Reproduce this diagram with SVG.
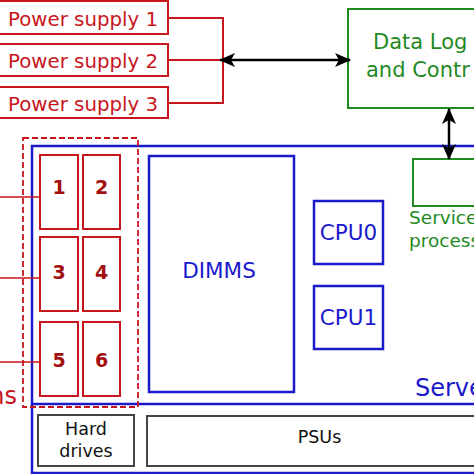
<svg xmlns="http://www.w3.org/2000/svg" width="474" height="474" viewBox="0 0 474 474">
<style>
text{font-family:"DejaVu Sans","Liberation Sans",sans-serif}
.red{fill:#fff;stroke:#c8161e;stroke-width:2}
.rt{fill:#c8161e;font-size:19.8px}
.blue{fill:#fff;stroke:#1a1acc;stroke-width:2.5}
.bt{fill:#1a1acc}
.green{fill:#fff;stroke:#1f8a1f;stroke-width:2}
.gt{fill:#1f8a1f}
.gray{fill:#fff;stroke:#444;stroke-width:2}
.num{fill:#a40f0f;font-size:19px;font-weight:bold;text-anchor:middle}
.fan{fill:#fff;stroke:#c8161e;stroke-width:2}
</style>
<defs>
<marker id="ah" viewBox="0 0 16 14" refX="15" refY="7" markerWidth="16" markerHeight="14" markerUnits="userSpaceOnUse" orient="auto-start-reverse">
<path d="M0,0 L16,7 L0,14 L4,7 Z" fill="#000"/>
</marker>
</defs>
<g id="server">
<rect class="blue" x="32" y="146" width="460" height="327"/>
<line x1="32" y1="404" x2="474" y2="404" stroke="#1a1acc" stroke-width="2.5"/>
<text class="bt" x="415" y="396" font-size="24">Serve</text>
</g>
<g id="fans-group">
<rect x="23" y="138" width="115" height="269" fill="none" stroke="#c8161e" stroke-width="1.8" stroke-dasharray="6,3"/>
<text x="17" y="404" fill="#c8161e" font-size="24" text-anchor="end">ns</text>
</g>
<g id="fan1"><rect class="fan" x="40" y="155" width="38" height="74"/><text class="num" x="59" y="194">1</text></g>
<g id="fan2"><rect class="fan" x="83" y="155" width="37" height="74"/><text class="num" x="101.5" y="194">2</text></g>
<g id="fan3"><rect class="fan" x="40" y="237" width="38" height="74"/><text class="num" x="59" y="279">3</text></g>
<g id="fan4"><rect class="fan" x="83" y="237" width="37" height="74"/><text class="num" x="101.5" y="279">4</text></g>
<g id="fan5"><rect class="fan" x="40" y="322" width="38" height="74"/><text class="num" x="59" y="367">5</text></g>
<g id="fan6"><rect class="fan" x="83" y="322" width="37" height="74"/><text class="num" x="101.5" y="367">6</text></g>
<g id="dimms"><rect class="blue" x="149" y="156" width="145" height="236"/><text class="bt" x="219" y="278" font-size="21.5" text-anchor="middle">DIMMS</text></g>
<g id="cpu0"><rect class="blue" x="314" y="201" width="69" height="63"/><text class="bt" x="348.5" y="240" font-size="21.5" text-anchor="middle">CPU0</text></g>
<g id="cpu1"><rect class="blue" x="314" y="286" width="69" height="63"/><text class="bt" x="348.5" y="325" font-size="21.5" text-anchor="middle">CPU1</text></g>
<g id="service-processor"><rect class="green" x="413" y="159" width="80" height="47"/><text class="gt" x="409" y="224" font-size="18.5">Service</text><text class="gt" x="409" y="247" font-size="18.5">process</text></g>
<g id="data-logger"><rect class="green" x="348" y="9" width="140" height="99"/><text class="gt" x="373" y="49" font-size="21">Data Log</text><text class="gt" x="366" y="77" font-size="21">and Contr</text></g>
<g id="ps1"><rect class="red" x="-2" y="1" width="170" height="33"/><text class="rt" x="8" y="26">Power supply 1</text></g>
<g id="ps2"><rect class="red" x="-2" y="44" width="170" height="32"/><text class="rt" x="8" y="68">Power supply 2</text></g>
<g id="ps3"><rect class="red" x="-2" y="87" width="170" height="31"/><text class="rt" x="8" y="111">Power supply 3</text></g>
<g id="hard-drives"><rect class="gray" x="38" y="415" width="96" height="51"/><text x="86" y="435" font-size="17.5" text-anchor="middle" fill="#111">Hard</text><text x="86" y="457" font-size="17.5" text-anchor="middle" fill="#111">drives</text></g>
<g id="psus"><rect class="gray" x="147" y="416" width="340" height="50"/><text x="319.5" y="443" font-size="17.5" text-anchor="middle" fill="#111">PSUs</text></g>
<g id="connectors" fill="none">
<path d="M168,18 H223 V103 H168 M168,60 H223" stroke="#c8161e" stroke-width="2"/>
<path d="M0,197 H40 M0,278 H40 M0,362 H40" stroke="#c8161e" stroke-width="1.5"/>
<line x1="220" y1="60" x2="350" y2="60" stroke="#000" stroke-width="2.5" marker-start="url(#ah)" marker-end="url(#ah)"/>
<line x1="449" y1="109" x2="449" y2="159" stroke="#000" stroke-width="2.5" marker-start="url(#ah)" marker-end="url(#ah)"/>
</g>
</svg>
